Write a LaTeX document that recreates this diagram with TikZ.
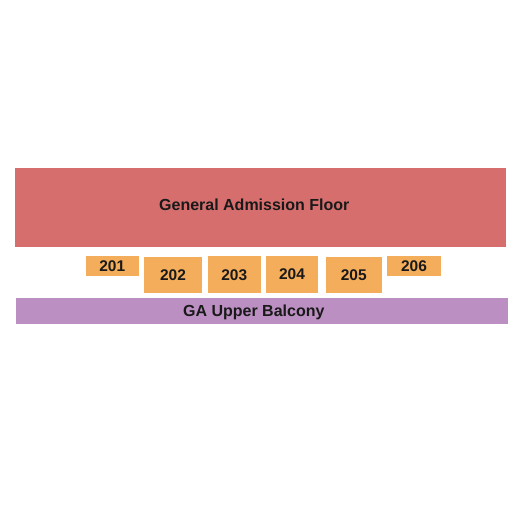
\documentclass[tikz,border=0pt]{standalone}
\usepackage{fontspec}
\setmainfont{Liberation Sans}
\definecolor{floorred}{HTML}{D66E6E}
\definecolor{secorange}{HTML}{F4AE5B}
\definecolor{balcpurple}{HTML}{BC8FC2}
\begin{document}
\begin{tikzpicture}[x=1pt, y=-1pt,
  zone/.style={rectangle, inner sep=0pt, text=black!90},
  zonetext/.style={text=black!90, font=\fontsize{16}{16}\bfseries\selectfont},
  section/.style={zone, fill=secorange, font=\fontsize{15.5}{15.5}\bfseries\selectfont}]

\useasboundingbox (0,0) rectangle (525,525);

\node[zone, fill=floorred, minimum width=490.7pt, minimum height=78.7pt,
  label={[zonetext, xshift=-6pt, yshift=2.5pt]center:General Admission Floor}] (floor) at (260.3,207.3) {};

\node[section, minimum width=53.3pt, minimum height=19.7pt] (s201) at (112.3,265.8) {201};
\node[section, minimum width=57.3pt, minimum height=36.3pt] (s202) at (173,275.2) {202};
\node[section, minimum width=52.7pt, minimum height=37.3pt] (s203) at (234.3,274.7) {203};
\node[section, minimum width=52.7pt, minimum height=37pt] (s204) at (292,274.5) {204};
\node[section, minimum width=56.3pt, minimum height=35.7pt] (s205) at (353.8,274.8) {205};
\node[section, minimum width=53.3pt, minimum height=19.7pt] (s206) at (414,265.8) {206};

\node[zone, fill=balcpurple, minimum width=491.7pt, minimum height=26pt,
  label={[zonetext, xshift=-8pt, yshift=-1.5pt]center:GA Upper Balcony}] (balcony) at (261.8,310.7) {};
\end{tikzpicture}
\end{document}
